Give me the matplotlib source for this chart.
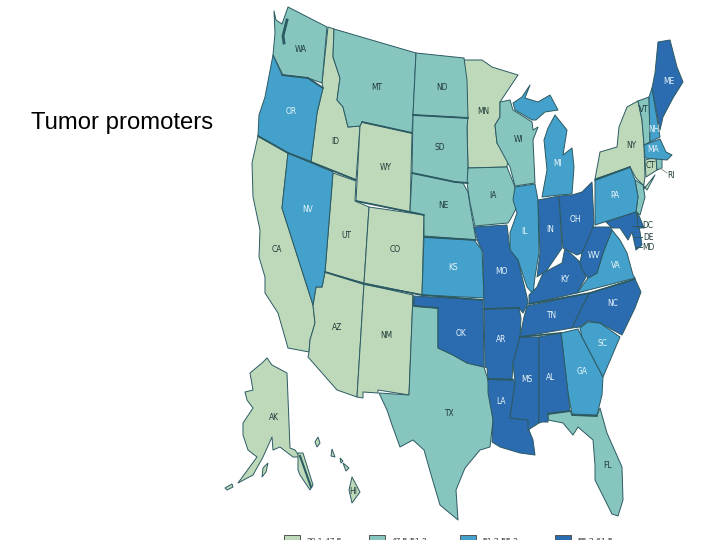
import matplotlib
matplotlib.use("Agg")
import matplotlib.pyplot as plt
from matplotlib.patches import Polygon

# Class of each state (legend order: lightest to darkest)
class_1 = ["CA", "UT", "CO", "AZ", "NM", "ID", "WY", "MN", "NY", "CT", "AK", "HI"]
class_2 = ["WA", "MT", "ND", "SD", "NE", "TX", "IA", "WI", "FL", "VT", "NJ", "RI"]
class_3 = ["OR", "NV", "KS", "IL", "MI", "UP", "PA", "VA", "GA", "SC", "NH", "MA"]
class_4 = ["OK", "MO", "AR", "LA", "MS", "AL", "TN", "KY", "IN", "OH", "WV", "NC", "ME", "MD", "DE"]

legend_labels = ["28.1-47.5", "47.5-51.3", "51.3-55.3", "55.3-61.5"]
class_colors = ["#BDD9BA", "#87C5BF", "#44A1CB", "#2B6CB0"]

# State outlines, in image pixels
WA = [(274, 11), (276, 20), (282, 24), (288, 7), (327, 27), (322, 83), (308, 78), (283, 75), (273, 55), (275, 33)]
OR = [(273, 55), (282, 75), (308, 78), (323, 88), (317, 113), (311, 162), (288, 153), (258, 136), (259, 115), (265, 97)]
ID = [(328, 27), (334, 29), (333, 57), (340, 78), (337, 100), (343, 107), (348, 127), (360, 126), (356, 180), (311, 162), (317, 113), (323, 88), (322, 83)]
MT = [(334, 29), (416, 53), (413, 115), (412, 133), (362, 122), (360, 126), (348, 127), (343, 107), (337, 100), (340, 78), (333, 57)]
WY = [(362, 122), (412, 133), (410, 212), (356, 201), (360, 126)]
ND = [(416, 53), (464, 58), (467, 80), (468, 118), (413, 115)]
SD = [(413, 115), (468, 118), (467, 127), (468, 170), (468, 183), (455, 182), (412, 173)]
NE = [(412, 173), (455, 182), (463, 183), (468, 192), (470, 205), (476, 240), (424, 236), (424, 215), (410, 212)]
KS = [(424, 237), (474, 240), (482, 250), (484, 298), (422, 295)]
CO = [(369, 207), (424, 215), (422, 295), (364, 283)]
UT = [(333, 173), (356, 181), (355, 201), (369, 207), (364, 283), (325, 272)]
NV = [(288, 153), (333, 172), (325, 272), (322, 287), (316, 287), (313, 305), (282, 208)]
CA = [(258, 136), (288, 153), (282, 208), (313, 305), (315, 323), (310, 340), (309, 352), (288, 348), (278, 313), (265, 293), (265, 277), (259, 257), (260, 230), (253, 197), (252, 163)]
AZ = [(325, 272), (364, 284), (357, 397), (337, 390), (308, 357), (309, 352), (310, 340), (315, 323), (313, 305), (316, 287), (322, 287)]
NM = [(364, 284), (413, 295), (409, 395), (378, 390), (378, 393), (363, 392), (363, 398), (357, 397)]
TX = [(414, 306), (438, 308), (438, 348), (453, 355), (467, 363), (484, 367), (488, 380), (493, 420), (490, 447), (480, 450), (465, 468), (456, 490), (458, 520), (440, 505), (432, 478), (424, 450), (413, 440), (400, 447), (392, 425), (387, 410), (379, 393), (409, 395), (413, 295)]
OK = [(414, 296), (483, 300), (484, 367), (467, 363), (453, 355), (438, 348), (438, 308), (414, 306)]
MN = [(464, 60), (482, 60), (492, 67), (518, 75), (500, 102), (500, 117), (495, 125), (497, 143), (508, 158), (507, 167), (468, 168), (467, 123), (464, 80)]
IA = [(468, 168), (507, 167), (515, 187), (517, 207), (510, 220), (508, 223), (475, 226), (470, 203), (467, 183)]
MO = [(474, 227), (507, 225), (510, 250), (518, 260), (527, 297), (528, 303), (523, 313), (519, 308), (484, 309), (483, 252), (478, 242)]
AR = [(484, 309), (519, 308), (521, 318), (520, 337), (513, 363), (512, 380), (488, 379), (487, 368), (485, 367)]
LA = [(488, 379), (513, 379), (515, 383), (510, 418), (528, 420), (529, 430), (533, 440), (535, 455), (520, 453), (500, 447), (492, 442), (493, 420), (488, 393)]
MS = [(520, 337), (539, 337), (539, 423), (528, 430), (528, 420), (510, 418), (515, 383), (513, 363)]
AL = [(539, 337), (561, 333), (568, 393), (570, 411), (548, 413), (548, 422), (542, 422), (539, 423)]
GA = [(561, 333), (578, 329), (582, 337), (603, 377), (602, 395), (597, 415), (572, 414), (568, 393)]
SC = [(580, 328), (588, 322), (600, 323), (620, 337), (603, 377), (582, 337)]
FL = [(548, 414), (570, 411), (572, 415), (597, 416), (600, 408), (607, 433), (622, 467), (623, 500), (618, 516), (612, 514), (605, 500), (595, 480), (595, 465), (593, 440), (578, 427), (573, 435), (563, 423), (548, 420)]
TN = [(527, 306), (590, 293), (583, 305), (572, 328), (520, 337), (524, 317)]
KY = [(529, 295), (537, 287), (543, 273), (562, 263), (565, 248), (580, 262), (586, 277), (577, 293), (529, 304)]
IN = [(538, 200), (559, 196), (562, 248), (547, 270), (537, 277), (540, 253)]
IL = [(515, 187), (535, 184), (538, 200), (539, 253), (535, 277), (533, 294), (527, 287), (518, 260), (510, 250), (510, 233), (517, 213), (513, 200)]
OH = [(559, 196), (572, 195), (582, 192), (592, 182), (594, 223), (592, 233), (582, 253), (577, 255), (563, 248)]
WV = [(580, 262), (582, 253), (593, 227), (596, 227), (610, 227), (612, 230), (603, 253), (597, 273), (588, 278), (582, 270)]
VA = [(577, 293), (588, 278), (597, 273), (603, 253), (612, 230), (620, 240), (627, 253), (633, 275), (635, 278)]
NC = [(635, 279), (641, 292), (635, 308), (622, 335), (600, 323), (588, 321), (580, 327), (572, 328), (583, 305), (590, 293)]
PA = [(595, 180), (630, 167), (635, 180), (638, 197), (636, 212), (595, 225)]
NY = [(595, 179), (600, 152), (617, 147), (619, 127), (627, 107), (638, 101), (642, 120), (644, 143), (645, 177), (643, 190), (655, 175), (647, 190), (643, 185), (636, 178), (630, 167)]
NJ = [(635, 180), (643, 185), (645, 197), (640, 215), (636, 212), (638, 197)]
VT = [(638, 101), (649, 97), (650, 142), (644, 145), (642, 120)]
NH = [(649, 97), (652, 88), (660, 137), (650, 142)]
ME = [(658, 42), (670, 40), (677, 67), (683, 82), (673, 98), (663, 117), (660, 130), (652, 88), (655, 73)]
MA = [(644, 145), (660, 139), (666, 152), (672, 155), (667, 160), (645, 158)]
CT = [(645, 160), (656, 157), (657, 170), (646, 177)]
RI = [(656, 157), (662, 156), (662, 168), (657, 170)]
DE = [(637, 212), (640, 218), (644, 228), (638, 228)]
MD = [(606, 222), (636, 212), (640, 232), (642, 245), (636, 250), (632, 232), (628, 240), (620, 228), (612, 228)]
MI = [(542, 197), (559, 195), (572, 194), (574, 167), (572, 148), (563, 155), (567, 130), (555, 115), (548, 128), (544, 140), (547, 170)]
UP = [(513, 103), (522, 97), (530, 85), (525, 98), (538, 102), (550, 95), (558, 110), (545, 112), (536, 120), (532, 120), (515, 110)]
WI = [(500, 102), (510, 100), (513, 110), (532, 122), (533, 130), (538, 127), (533, 140), (535, 183), (515, 186), (510, 167), (497, 143), (495, 125), (500, 117)]
AK = [(267, 358), (272, 365), (287, 373), (290, 448), (295, 450), (300, 457), (293, 457), (280, 447), (273, 450), (272, 437), (263, 457), (253, 475), (238, 483), (257, 457), (248, 450), (243, 435), (243, 423), (253, 408), (247, 400), (245, 392), (253, 390), (250, 373), (262, 363)]
HI = [(352, 477), (360, 492), (352, 503), (349, 490)]

# Small islands, same colour as AK / HI
islands = [
    [(298, 453), (303, 453), (313, 485), (310, 490), (300, 475), (298, 470)],
    [(225, 488), (232, 484), (233, 487), (227, 490)],
    [(268, 463), (266, 472), (262, 477), (263, 468)],
    [(318, 437), (320, 443), (317, 447), (315, 442)],
    [(332, 449), (335, 457), (331, 456)],
    [(340, 458), (343, 461), (341, 463)],
    [(343, 463), (349, 468), (346, 471)],
]

# Borders that print heavier in the picture
heavy_borders = [
    [(258, 136), (288, 153), (311, 162), (356, 180)],
    [(282, 75), (308, 78), (323, 88)],
    [(362, 122), (412, 133)],
    [(413, 115), (468, 118)],
    [(412, 173), (455, 182), (468, 183)],
    [(356, 201), (410, 212), (424, 215)],
    [(424, 237), (476, 240)],
    [(325, 272), (364, 284), (422, 295), (483, 300)],
    [(414, 306), (438, 308)],
    [(488, 379), (512, 380)],
    [(484, 309), (519, 308)],
    [(595, 180), (630, 167)],
    [(529, 304), (590, 293), (635, 279)],
    [(520, 337), (561, 333)],
    [(548, 414), (570, 411)],
    [(572, 415), (597, 416)],
]

outlines = dict(WA=WA, OR=OR, ID=ID, MT=MT, WY=WY, ND=ND, SD=SD, NE=NE, KS=KS, CO=CO, UT=UT, NV=NV, CA=CA,
                AZ=AZ, NM=NM, TX=TX, OK=OK, MN=MN, IA=IA, MO=MO, AR=AR, LA=LA, MS=MS, AL=AL, GA=GA, SC=SC,
                FL=FL, TN=TN, KY=KY, IN=IN, IL=IL, OH=OH, WV=WV, VA=VA, NC=NC, PA=PA, NY=NY, NJ=NJ, VT=VT,
                NH=NH, ME=ME, MA=MA, CT=CT, RI=RI, DE=DE, MD=MD, MI=MI, UP=UP, WI=WI, AK=AK, HI=HI)

# State abbreviations with the place they are printed
state_labels = {"WA": (301, 50), "OR": (291, 112), "CA": (277, 250), "NV": (308, 210), "ID": (335, 142),
                "MT": (377, 87), "WY": (386, 168), "UT": (346, 235), "CO": (395, 250), "AZ": (337, 327),
                "NM": (386, 336), "ND": (442, 87), "SD": (440, 147), "NE": (443, 205), "KS": (453, 267),
                "OK": (461, 333), "TX": (449, 413), "MN": (483, 112), "IA": (493, 196), "MO": (501, 271),
                "AR": (501, 340), "LA": (501, 401), "WI": (519, 140), "IL": (524, 231), "MS": (527, 379),
                "AL": (551, 377), "TN": (551, 315), "KY": (565, 280), "IN": (550, 229), "OH": (575, 219),
                "MI": (558, 164), "GA": (582, 372), "FL": (607, 466), "SC": (603, 343), "NC": (613, 304),
                "VA": (616, 265), "WV": (594, 255), "PA": (615, 196), "NY": (631, 145), "ME": (669, 81),
                "NH": (654, 129), "VT": (644, 110), "MA": (653, 149), "CT": (651, 165), "RI": (671, 175),
                "DC": (648, 226), "DE": (648, 237), "MD": (648, 248), "AK": (274, 418), "HI": (353, 491)}

plt.rcParams['font.family'] = ['Liberation Sans', 'DejaVu Sans']
line_color = "#2C5A63"

fig = plt.figure(figsize=(7.2, 5.4), dpi=100)
ax = fig.add_axes([0, 0, 1, 1])
ax.set_xlim(0, 720)
ax.set_ylim(540, 0)
ax.axis("off")

# Draw the states, class by class
for states, color in zip([class_1, class_2, class_3, class_4], class_colors):
    for name in states:
        ax.add_patch(Polygon(outlines[name], closed=True, facecolor=color, edgecolor=line_color, linewidth=0.7, joinstyle="round"))

for shape in islands:
    ax.add_patch(Polygon(shape, closed=True, facecolor=class_colors[0], edgecolor=line_color, linewidth=0.7))

for border in heavy_borders:
    xs, ys = zip(*border)
    ax.plot(xs, ys, color=line_color, linewidth=1.3, solid_capstyle="round")

# Puget Sound
ax.plot([287, 285, 283, 284], [20, 28, 36, 43], color=line_color, linewidth=2)

# Alaska panhandle is mostly dark coast lines
ax.plot([300, 305, 311], [456, 470, 487], color=line_color, linewidth=1.5)

dark_classes = class_3 + class_4
for name, (x, y) in state_labels.items():
    color = "#EAF6FA" if name in dark_classes and name not in ("DE", "MD") else "#1F3A3A"
    ax.text(x, y, name, fontsize=6, color=color, ha="center", va="center",
            family=['Liberation Sans Narrow', 'DejaVu Sans'], stretch="condensed")

# Leader lines to the small north-east states
ax.plot([660, 667], [168, 173], color="#888888", linewidth=0.6)
ax.plot([632, 642], [226, 226], color=line_color, linewidth=0.7)
ax.plot([634, 642], [237, 237], color=line_color, linewidth=0.7)
ax.plot([636, 642], [247, 247], color=line_color, linewidth=0.7)

# Legend is cut off by the bottom edge of the picture, same as the original
legend_x = [284, 369, 460, 555]
for x, color, label in zip(legend_x, class_colors, legend_labels):
    ax.add_patch(Polygon([(x, 535), (x + 16, 535), (x + 16, 545), (x, 545)], closed=True, facecolor=color, edgecolor="#555555", linewidth=0.7, clip_on=True))
    ax.text(x + 23, 538, label, fontsize=6, color="#333333", ha="left", va="top", clip_on=True)

ax.text(31, 129, "Tumor promoters", fontsize=17.2, color="black", ha="left", va="baseline")

fig.savefig("out.png", dpi=100)
